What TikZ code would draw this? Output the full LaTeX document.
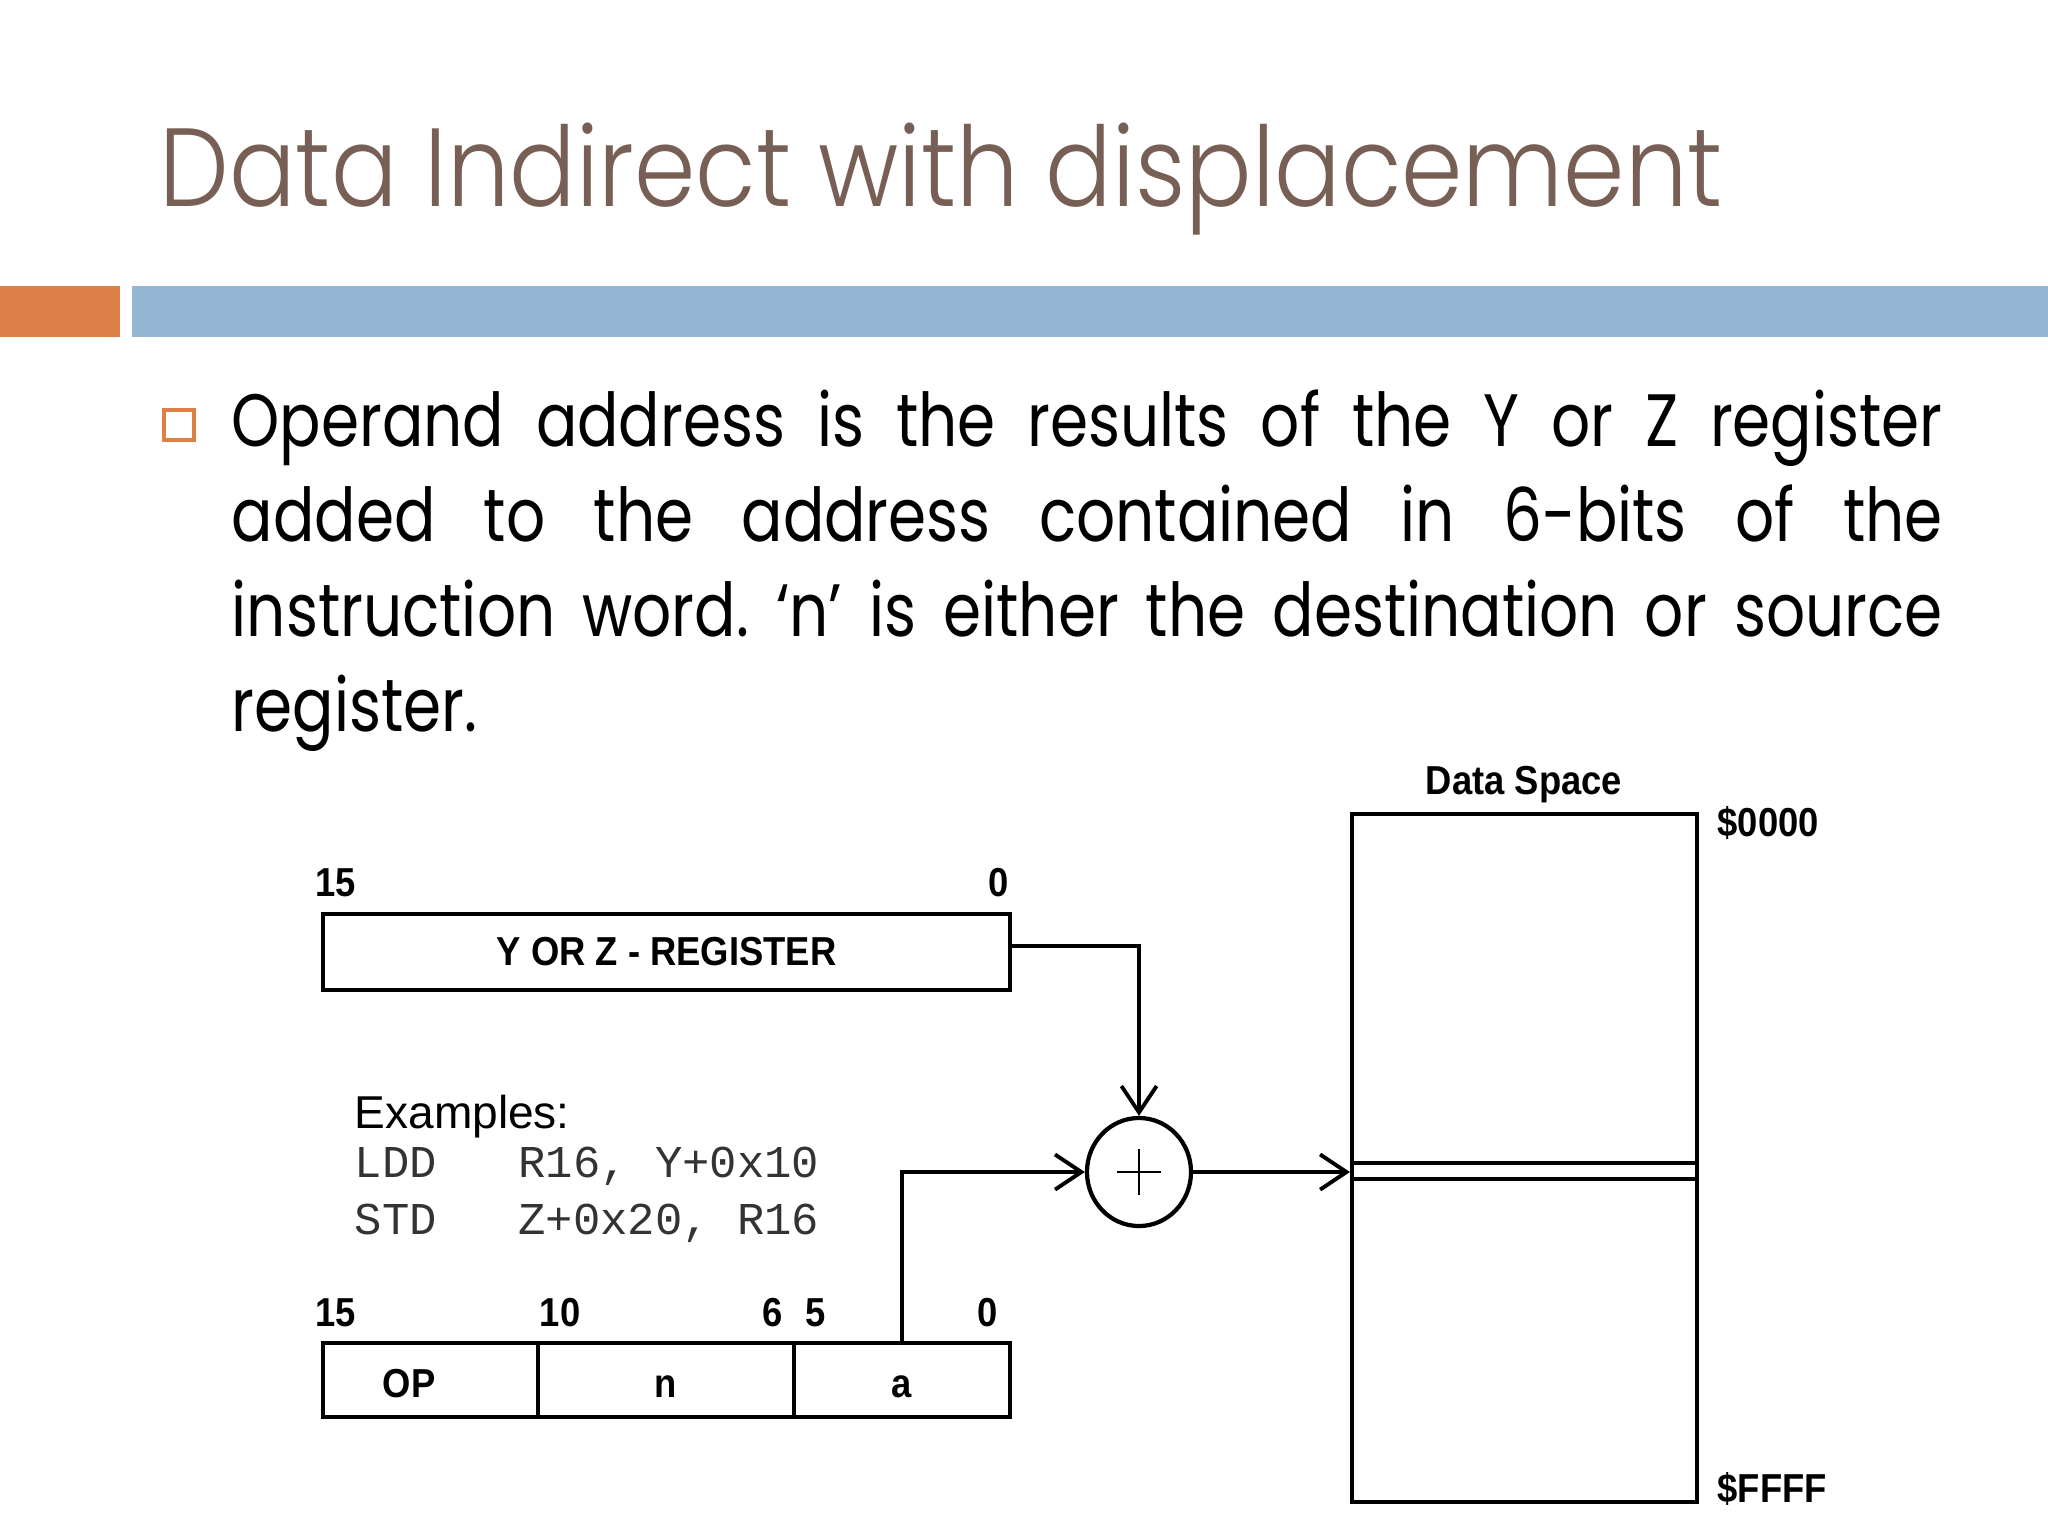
\documentclass[tikz,border=0pt]{standalone}
\usepackage{fontspec}
\setmainfont{Liberation Sans}
\IfFontExistsTF{Poppins Light}{\newfontfamily\poptitle{Poppins Light}}{\newfontfamily\poptitle{Poppins}}
\newfontfamily\pop{Poppins}
\newfontfamily\cmono{Liberation Mono}
\usetikzlibrary{arrows.meta,shapes.geometric,calc}
\definecolor{titlebrown}{HTML}{775F55}
\definecolor{accorange}{HTML}{DD8047}
\definecolor{accblue}{HTML}{94B6D2}
\newlength\opw
\newlength\lthree
\newcommand\bodyfont{\pop\fontsize{21.1}{25}\selectfont}
\newcommand\lblfont{\bfseries\fontsize{11.5}{13}\selectfont}
\newcommand\lbl[1]{\scalebox{0.9}[1]{#1}}
\newcommand\lineiii{instruction word. ‘n’ is either the destination or source}
\frenchspacing
\begin{document}
\settowidth\opw{\bodyfont Operand}%
\settowidth\lthree{\bodyfont \lineiii}%
\pgfmathsetmacro\bodyca{2.89cm/\opw}%
\pgfmathsetmacro\bodycb{0.95*17.10cm/\lthree}%
\pgfmathsetmacro\bodyc{min(\bodyca,\bodycb)}%
\pgfmathsetlengthmacro\linew{17.10cm/\bodyc}%
\begin{tikzpicture}[x=0.01cm,y=-0.01cm,
  box/.style={draw, line width=1.1pt, inner sep=0pt},
  bit/.style={anchor=base, font=\lblfont, inner sep=0pt},
  conn/.style={line width=1.1pt, -{Straight Barb[length=7.5pt,width=10pt]}},
  bodyline/.style={anchor=base west, inner sep=0pt, font=\bodyfont}]
\useasboundingbox[fill=white] (0,0) rectangle (2048,1536);
% title
\node[anchor=base west, inner sep=0pt, text=titlebrown] (title) at (159,206)
  {\resizebox{15.62cm}{\height}{\poptitle\fontsize{31.6}{36}\selectfont Data Indirect with displacement}};
% bars
\fill[accorange] (0,286) rectangle (120,337);
\fill[accblue] (132,286) rectangle (2048,337);
% bullet
\node[draw=accorange, line width=0.9pt, minimum size=0.30cm, inner sep=0pt] (bullet) at (179,425) {};
\node[bodyline] (l1) at (231,446) {\scalebox{\bodyc}[1]{\makebox[\linew][s]{Operand address is the results of the Y or Z register}}};
\node[bodyline] (l2) at (231,541) {\scalebox{\bodyc}[1]{\makebox[\linew][s]{added to the address contained in 6-bits of the}}};
\node[bodyline] (l3) at (231,636) {\scalebox{\bodyc}[1]{\makebox[\linew][s]{\lineiii}}};
\node[bodyline] (l4) at (231,731) {\scalebox{\bodyc}[1]{register.}};
% top register
\node[box, minimum width=6.87cm, minimum height=0.76cm, font=\lblfont] (yreg) at (666.5,952) {\lbl{Y OR Z - REGISTER}};
\node[bit] (t15) at (336,896) {\lbl{15}};
\node[bit] (t0) at (999,896) {\lbl{0}};
% bottom register
\node[box, minimum width=2.15cm, minimum height=0.74cm] (opf) at (430.5,1380) {};
\node[box, minimum width=2.56cm, minimum height=0.74cm] (nf) at (666,1380) {};
\node[box, minimum width=2.16cm, minimum height=0.74cm] (af) at (902,1380) {};
\node[bit] (optxt) at (409,1397) {\lbl{OP}};
\node[bit] (ntxt) at (666,1397) {\lbl{n}};
\node[bit] (atxt) at (902,1397) {\lbl{a}};
\node[bit] (b15) at (336,1326) {\lbl{15}};
\node[bit] (b10) at (560,1326) {\lbl{10}};
\node[bit] (b6) at (773,1326) {\lbl{6}};
\node[bit] (b5) at (816,1326) {\lbl{5}};
\node[bit] (b0) at (988,1326) {\lbl{0}};
% examples
\node[anchor=base west, inner sep=0pt, font=\fontsize{13.1}{15}\selectfont] (ex) at (354,1128) {Examples:};
\node[anchor=base west, inner sep=0pt, font=\cmono\fontsize{12.95}{15}\selectfont, text=black!80] (ldd) at (354,1177) {LDD\ \ \ R16,\ Y+0x10};
\node[anchor=base west, inner sep=0pt, font=\cmono\fontsize{12.95}{15}\selectfont, text=black!80] (std) at (354,1234) {STD\ \ \ Z+0x20,\ R16};
% adder
\node[draw, ellipse, line width=1.2pt, minimum width=1.04cm, minimum height=1.08cm, inner sep=0pt] (sum) at (1139,1172) {};
\draw[line width=0.75pt] ([xshift=-0.22cm]sum.center) -- ([xshift=0.22cm]sum.center);
\draw[line width=0.75pt] ([yshift=-0.23cm]sum.center) -- ([yshift=0.23cm]sum.center);
% data space
\node[box, minimum width=3.45cm, minimum height=6.88cm] (mem) at (1524.5,1158) {};
\node[bit] (dstitle) at (1524,794) {\lbl{Data Space}};
\node[anchor=base west, font=\lblfont, inner sep=0pt] (a0) at (1717,836) {\lbl{\$0000}};
\node[anchor=base west, font=\lblfont, inner sep=0pt] (aF) at (1717,1502) {\lbl{\$FFFF}};
\coordinate (s1) at (0,1163);
\coordinate (s2) at (0,1179);
\draw[line width=0.9pt] (mem.west |- s1) -- (mem.east |- s1);
\draw[line width=0.9pt] (mem.west |- s2) -- (mem.east |- s2);
% connectors
\draw[conn] ([yshift=0.06cm]yreg.east) -| (sum.north);
\draw[conn] (af.north) |- (sum.west);
\draw[conn] (sum.east) -- (sum.east -| mem.west);
\end{tikzpicture}
\end{document}
